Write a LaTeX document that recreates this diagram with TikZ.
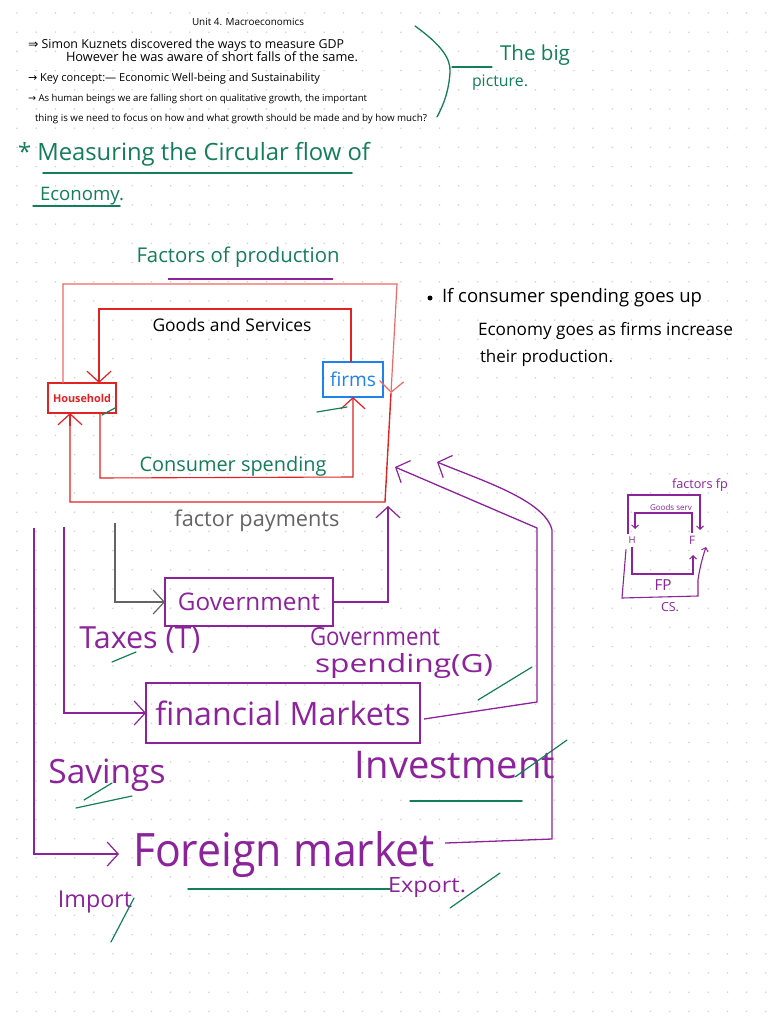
\documentclass[tikz,border=0pt]{standalone}
\usepackage{fontspec}
\setmainfont{Open Sans}
\newfontfamily\symfont{DejaVu Sans}
\usetikzlibrary{arrows.meta,calc}
\definecolor{pgreen}{RGB}{20,125,90}
\definecolor{ppurple}{RGB}{140,35,155}
\definecolor{pred}{RGB}{225,35,35}
\definecolor{plred}{RGB}{240,105,105}
\definecolor{pblue}{RGB}{30,130,235}
\definecolor{pgray}{RGB}{100,100,100}
\definecolor{dotc}{RGB}{212,212,212}
\newcommand{\fw}[2]{\resizebox{#1pt}{!}{#2}}
\newcommand{\fwh}[3]{\resizebox{#1pt}{#2pt}{#3}}
\begin{document}
\begin{tikzpicture}[x=1pt,y=-1pt,
  txt/.style={inner sep=0pt, outer sep=0pt},
  boxbase/.style={draw, line width=1.2pt, inner sep=0pt, outer sep=0pt},
  hbox/.style={boxbase, draw=pred, text=pred, minimum width=68pt, minimum height=30pt},
  fbox/.style={boxbase, draw=pblue, text=pblue, minimum width=60pt, minimum height=35pt},
  gbox/.style={boxbase, draw=ppurple, text=ppurple, minimum width=168pt, minimum height=48pt},
  mbox/.style={boxbase, draw=ppurple, text=ppurple, minimum width=274pt, minimum height=60pt},
  arr/.style={-{Straight Barb[length=11pt,width=24pt,line width=1.2pt]}},
  sarr/.style={-{Straight Barb[length=3.5pt,width=7pt,line width=0.9pt]}},
  redline/.style={draw=pred, line width=1.4pt},
  lredline/.style={draw=plred, line width=1.2pt},
  innerline/.style={draw=pred, line width=1.1pt},
  purpline/.style={draw=ppurple, line width=1.3pt},
  smallpurp/.style={draw=ppurple, line width=1.1pt},
  grnline/.style={draw=pgreen, line width=1.5pt, line cap=round},
  grayline/.style={draw=pgray, line width=1.1pt},
]
\useasboundingbox (0,0) rectangle (768,1024);
\fill[white] (0,0) rectangle (768,1024);
% dot grid
\foreach \i in {0,...,39}{
  \foreach \j in {0,...,53}{
    \fill[dotc] (17+19.2*\i, 13+19.2*\j) circle[radius=0.9pt];
  }
}
% ---------- header ----------
\node[txt] (h0) at (248,22) {\fw{112}{Unit 4. Macroeconomics}};
\node[txt,anchor=west] (h1) at (28,45) {\fw{316}{{\symfont ⇒} Simon Kuznets discovered the ways to measure GDP}};
\node[txt,anchor=west] (h2) at (66,57) {\fw{292}{However he was aware of short falls of the same.}};
\node[txt,anchor=west] (h3) at (28,79) {\fw{292}{{\symfont →} Key concept:— Economic Well-being and Sustainability}};
\node[txt,anchor=west] (h4) at (28,99) {\fw{339}{{\symfont →} As human beings we are falling short on qualitative growth, the important}};
\node[txt,anchor=west] (h5) at (35,119) {\fw{392}{thing is we need to focus on how and what growth should be made and by how much?}};
% bracket
\draw[grnline, line width=1.3pt] (415,26) .. controls (440,44) and (451,58) .. (450,72) .. controls (449,90) and (444,104) .. (437,117);
\draw[grnline, line width=1.3pt] (452,67) -- (492,67);
\node[txt, text=pgreen] (big) at (535,55) {\fw{70}{The big}};
\node[txt, text=pgreen] (pic) at (500,83) {\fw{56}{picture.}};
% ---------- title ----------
\node[txt, text=pgreen, anchor=west] (title1) at (18,154) {\fw{352}{* Measuring the Circular flow of}};
\draw[grnline] (43,173) -- (352,173);
\node[txt, text=pgreen, anchor=west] (title2) at (40,196) {\fw{84}{Economy.}};
\draw[grnline] (33,206) -- (120,206);
% ---------- factors of production ----------
\node[txt, text=pgreen] (fop) at (238,257) {\fw{203}{Factors of production}};
\draw[purpline] (168,279) -- (333,279);
% ---------- note ----------
\fill (430,298) circle[radius=2.5pt];
\node[txt, anchor=west] (n1) at (442,298) {\fw{260}{If consumer spending goes up}};
\node[txt, anchor=west] (n2) at (478,331) {\fw{255}{Economy goes as firms increase}};
\node[txt, anchor=west] (n3) at (480,358) {\fw{133}{their production.}};
% ---------- circular flow ----------
\node[hbox] (household) at (82,398) {\fw{58}{\bfseries Household}};
\node[fbox] (firms) at (353,379.5) {\fw{46}{firms}};
\coordinate (o1) at (63,284);
\coordinate (o2) at (397,284);
\coordinate (o3) at (385,502);
\coordinate (o4) at (70,502);
\coordinate (om) at ($(o2)!0.5!(o3)$);
\draw[lredline] (household.north -| o1) -- (o1) -- (o2) -- ($(o2)!0.3!(o3)$);
\draw[lredline, arr] ($(o2)!0.3!(o3)$) -- (om);
\draw[redline] (om) -- (o3) -- (o4) -- (household.south -| o4);
\draw[redline, arr] ($(o4)!0.85!(household.south -| o4)$) -- (household.south -| o4);
\coordinate (i1) at (99,309);
\coordinate (i2) at (351,309);
\draw[innerline, arr] (firms.north -| i2) -- (i2) -- (i1) -- (household.north -| i1);
\coordinate (i3) at (100,478);
\coordinate (i4) at (353,477);
\draw[innerline, arr] (household.south -| i3) -- (i3) -- (i4) -- (firms.south -| i4);
\node[txt] (goods) at (232,325) {\fw{159}{Goods and Services}};
\node[txt, text=pgreen] (cons) at (233,466) {\fw{187}{Consumer spending}};
\draw[grnline, line width=1.2pt] (102,415) -- (115,408);
\draw[grnline, line width=1.2pt] (317,412) -- (347,407);
\node[txt, text=pgray] (fpay) at (257,521) {\fw{165}{factor payments}};
% ---------- government ----------
\node[gbox] (govt) at (249,602) {\fw{142}{Government}};
\draw[grayline, arr] (115,523) |- (govt.west);
\draw[purpline, arr] (govt.east) -| (388,506);
\node[txt, text=ppurple] (taxes) at (140,640) {\fw{121}{Taxes (T)}};
\draw[grnline, line width=1.2pt] (112,662) -- (136,652);
\node[txt, text=ppurple, anchor=base west] (gsp1) at (310,645) {\fwh{130}{18}{Government}};
\node[txt, text=ppurple, anchor=base west] (gsp2) at (315,672) {\fwh{178}{19}{spending(G)}};
\draw[grnline, line width=1.2pt] (478,700) -- (532,667);
% ---------- financial markets ----------
\node[mbox] (fin) at (283,713) {\fw{255}{financial Markets}};
\draw[purpline, arr] (64,527) |- (fin.west);
\draw[purpline, arr] ($(fin.east)+(4,6)$) -- (537,702) -- (537,528) -- (395,467);
\node[txt, text=ppurple] (sav) at (107,775) {\fw{117}{Savings}};
\draw[grnline, line width=1.2pt] (84,800) -- (112,783);
\draw[grnline, line width=1.2pt] (76,808) -- (132,796);
\node[txt, text=ppurple] (inv) at (455,765) {\fw{200}{Investment}};
\draw[grnline, line width=1.2pt] (515,777) -- (567,740);
\draw[grnline] (410,801) -- (522,801);
% ---------- foreign market ----------
\node[txt, text=ppurple, anchor=base west] (foreign) at (133,866) {\fwh{302}{35}{Foreign market}};
\draw[purpline, arr] (34,528) |- ($(foreign.west)+(-14,0)$);
\draw[purpline, arr] ($(foreign.east)+(10,-11)$) -- (552,839) -- (552,530) .. controls (545,500) and (480,480) .. (437,462);
\draw[grnline] (188,889) -- (390,889);
\node[txt, text=ppurple, anchor=base west] (exp) at (388,892) {\fwh{78}{15}{Export.}};
\draw[grnline, line width=1.2pt] (450,908) -- (500,873);
\node[txt, text=ppurple] (imp) at (95,902) {\fw{74}{Import}};
\draw[grnline, line width=1.2pt] (111,942) -- (134,898);
% ---------- small diagram ----------
\node[txt, text=ppurple] (sfp) at (700,485) {\fw{56}{factors fp}};
\node[txt, text=ppurple] (sgs) at (671,507) {\fw{42}{Goods serv}};
\node[txt, text=ppurple] (sh) at (632,540) {\fw{7}{H}};
\node[txt, text=ppurple] (sf) at (692,540) {\fw{6}{F}};
\node[txt, text=ppurple] (sfp2) at (663,585) {\fw{17}{FP}};
\node[txt, text=ppurple] (scs) at (670,607) {\fw{18}{CS.}};
\draw[smallpurp, sarr] ($(sh.north)+(-4,-3)$) -- (628,495) -- (700,495) -- (700,530);
\draw[smallpurp, sarr] ($(sf.north)+(0,-3)$) -- (692,513) -- (635,513) -- (635,529);
\draw[smallpurp, sarr] ($(sh.south)+(0,4)$) -- (632,574) -- (693,574) -- (693,555);
\draw[smallpurp, sarr] ($(sh.south)+(-6,6)$) -- (622,598) -- (698,596) -- (698,580) .. controls (700,566) and (703,556) .. (706,547);
\end{tikzpicture}
\end{document}
